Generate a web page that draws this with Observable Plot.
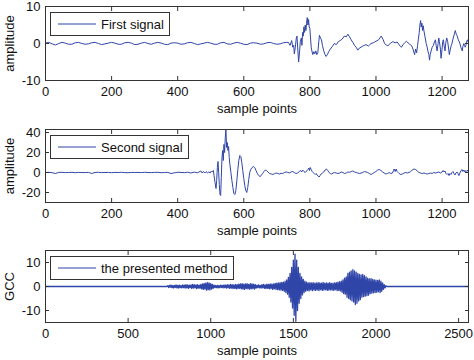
<!DOCTYPE html>
<html>
<head>
<meta charset="utf-8">
<script src="https://cdn.jsdelivr.net/npm/d3@7"></script>
<script src="https://cdn.jsdelivr.net/npm/@observablehq/plot@0.6"></script>
<style>
  body { margin: 0; background: #fff; }
  #chart { width: 474px; height: 360px; }
  #chart svg { display: block; }
</style>
</head>
<body>
<div id="chart"></div>
<script>
// ---------- data ----------
const legendLabels = ["First signal", "Second signal", "the presented method"];
const yLabels = ["amplitude", "amplitude", "GCC"];
const xLabel = "sample points";

const xTicks12 = [0, 200, 400, 600, 800, 1000, 1200];
const xTicks25 = [0, 500, 1000, 1500, 2000, 2500];
const yTicks1 = [-10, 0, 10];
const yTicks2 = [-20, 0, 20, 40];
const yTicks3 = [-10, 0, 10];

// signal 1: quiet part (sample 0..730, every 10 samples)
const sig1QuietStep = 10;
const sig1Quiet = [
  0.1,0.3,-0.1,-0.4,0.0,0.3,0.1,-0.2,-0.2,0.2,
  0.3,0.0,-0.2,-0.1,0.2,0.3,0.0,-0.3,-0.1,0.1,
  0.3,0.1,-0.2,-0.2,0.2,0.3,0.1,-0.3,-0.2,0.1,
  0.3,0.0,-0.2,0.1,0.3,0.1,-0.2,-0.3,0.1,0.2,
  0.1,-0.2,-0.1,0.2,0.3,0.0,-0.3,-0.1,0.1,0.3,
  0.1,-0.2,-0.2,0.2,0.3,-0.1,-0.2,0.1,0.3,0.1,
  -0.2,-0.3,0.1,0.2,0.1,-0.2,-0.1,0.2,0.3,0.0,
  -0.2,-0.1,0.2,0.3
];
// signal 1: active part
const sig1X = [735,740,745,748,751,753,756,759,761,763,766,769,771,774,776,778,780,782,784,786,788,790,792,794,796,798,800,802,804,806,809,812,815,818,821,824,827,829,832,835,838,842,846,849,853,857,862,868,874,880,886,892,898,904,910,915,920,925,930,935,940,945,950,955,962,970,977,985,992,1000,1008,1016,1022,1026,1031,1036,1043,1051,1058,1064,1069,1074,1077,1082,1087,1092,1097,1102,1108,1112,1115,1117,1120,1123,1126,1128,1131,1133,1135,1137,1139,1141,1143,1145,1148,1152,1155,1157,1160,1162,1164,1167,1170,1174,1177,1180,1182,1185,1188,1190,1192,1195,1197,1200,1202,1204,1206,1209,1211,1214,1217,1220,1222,1225,1228,1230,1233,1236,1238,1240,1243,1246,1249,1252,1254,1257,1259,1261,1263,1266,1268,1270,1272,1274,1277,1279,1280];
const sig1Y = [0.3,-0.5,0.8,-1,-0.5,-2.8,-1,1.5,2,-1,-5,-2,0.5,1.5,-0.5,3,2,4.5,3,5,3.5,5.5,7,5,6.5,4.5,4,1.5,-1,-2,-3,-2.2,-2.8,-2,-3,-2.5,0.5,2.2,1.5,1,-0.5,-2,-3,-3.5,-3,-2.2,-1.5,-0.8,0,-0.3,0.5,0.8,1.2,2,1.8,2.5,1.8,1,0.3,-0.5,-1,-1.8,-1.2,-1,-0.6,-0.3,-0.7,0,0.2,0.6,1,2,1,0,-0.4,-0.6,0,0.5,0.2,0.4,-0.2,-0.8,-1,-0.3,0.2,0.6,0.2,-0.2,-0.6,-1.5,-2.5,-3,-1.5,-2.5,-0.5,1,3,5,6.2,4.5,5.5,3.5,4.8,3.5,2,0,-1,-2,-3,-4.5,-3,-2,-1,-0.5,0.5,1,-0.5,-2,0,1.5,0.5,-1.5,-4,-1.5,0.5,1,-0.5,-2,0,1.5,0.5,-1.5,-3,-1.5,-0.5,0,1.2,2.2,2.8,3.5,2.5,2,1,0.5,0,-1,-1.5,-2,-0.8,0,-0.5,-1,-0.5,0.5,1,0.3,0.6];

// signal 2: quiet part (sample 0..460, every 10 samples)
const sig2QuietStep = 10;
const sig2Quiet = [
  0,0.2,-0.2,-1,0.1,0.2,-0.1,0,0.2,-0.2,
  0.1,0,-0.1,0.1,-1,0.1,0.2,-0.1,0,0.1,
  -0.2,0.1,0,0.2,-0.1,-0.2,0.1,0,0.1,-0.1,
  0.2,0,-0.1,0.1,0.2,-0.2,0,0.1,-1,-0.3,
  0.2,0.1,-0.2,0.3,-0.5,0.4,-0.3
];
// signal 2: active part
const sig2X = [470,474,478,482,486,490,494,498,502,505,508,510,513,516,518,520,522,524,526,528,530,532,534,536,538,540,542,544,546,548,550,552,554,556,558,561,564,567,570,573,576,579,582,585,588,591,594,597,600,603,606,609,612,615,618,621,625,629,633,637,641,645,649,653,657,661,665,669,673,678,683,688,693,698,703,708,713,718,723,728,733,738,743,748,753,758,763,768,772,775,778,782,786,790,794,797,799,801,804,807,810,813,816,819,822,825,828,831,834,838,842,846,850,854,858,862,866,870,875,880,885,890,895,900,905,910,915,920,925,930,935,940,945,950,955,960,965,970,975,980,985,990,995,1000,1005,1010,1015,1020,1025,1030,1035,1040,1045,1050,1053,1055,1058,1061,1064,1067,1070,1075,1080,1085,1090,1095,1100,1105,1110,1115,1120,1125,1130,1135,1140,1145,1150,1155,1160,1165,1170,1175,1180,1185,1190,1195,1200,1203,1206,1209,1212,1215,1218,1221,1224,1227,1230,1233,1236,1239,1242,1245,1248,1251,1254,1257,1260,1263,1266,1269,1272,1275,1278,1280];
const sig2Y = [1.5,-0.5,1,-0.5,0.8,-0.3,0.5,-0.5,1.5,0.5,2,-3,-10,-16,-8,5,11,0,-12,-22,-23,-5,15,22,12,28,20,35,43,25,30,22,26,15,8,0,-8,-15,-21,-22,-18,-8,3,12,17,16,10,2,-6,-13,-18,-20,-15,-7,0,3,5,6,5,2,-1,-3,-4,-3,-1,1,2.5,2,0.5,-1,-1.5,-2,-1.2,-0.5,-1,-1.5,-0.8,-1,0,0.5,0.2,-0.5,0.5,1,0,-1,-0.5,1,2,0.5,2.5,1,0,1.5,3,4.5,2,5,3,1,0,-1,-2,-1,-2.5,-3.5,-4.5,-3,-1.5,-0.5,0.5,2.5,3.5,2,0,-1,-1.5,-0.5,0,-0.5,-1,-0.5,0.5,0,-1,-0.5,0.5,0.2,1,1.5,0.5,0,-0.5,-1,-0.5,0,1,0.5,0,-1,-2,-1,0,1,2.5,3,2,0.5,-0.5,-1.5,-1,0,-1,-0.5,2,3.5,1,3.5,1,0,-1,-2,-1.5,-0.5,0,-0.5,0,1,2.5,3.5,3,1.5,0,-0.5,-1,-0.5,-1,-1.5,-1,-0.5,-1,0,-0.5,0,0.5,-0.5,0.5,2,0.5,1.5,-1,-2,-1,-3,-1,-2,0,1,-1,-2.5,-0.5,0.5,-1,-3,-0.5,1.5,3,1,2.5,0.5,2,1,2.5,1.5];

// GCC: flat ends and active part (sample 740.., every 5 samples)
const gccFlatX = [0, 735, 2065, 2560];
const gccFlatY = [0, 0, 0, 0];
const gccStart = 740;
const gccStep = 5;
const gccValues = [
  0.3,-0.4,0.5,-0.3,0.6,-0.5,0.4,-0.6,0.5,-0.4,0.7,-0.6,0.5,-0.7,0.6,-0.5,0.4,-0.6,0.7,-0.5,
  0.6,-0.7,0.8,-0.6,0.7,-0.8,0.6,-0.5,0.7,-0.8,0.9,-0.7,0.8,-0.6,0.7,-0.9,0.8,-0.7,0.6,-0.8,
  0.9,-1.0,1.1,-1.2,1.3,-1.1,1.4,-1.5,1.6,-1.3,1.5,-1.4,1.2,-1.1,0.9,-0.8,0.6,-0.5,0.4,-0.5,
  0.5,-0.6,0.4,-0.5,0.6,-0.4,0.5,-0.6,0.7,-0.5,0.6,-0.7,0.8,-0.6,0.7,-0.8,0.9,-0.7,0.8,-0.9,
  0.7,-0.8,0.9,-1.0,0.8,-0.9,1.0,-0.8,1.1,-1.0,1.2,-1.1,1.0,-1.2,1.1,-0.9,1.2,-1.0,0.9,-1.1,
  1.2,-1.0,1.1,-0.9,1.0,-1.1,0.8,-0.7,0.6,-0.5,0.7,-0.6,0.5,-0.7,0.8,-0.6,0.9,-0.8,0.7,-0.9,
  1.0,-0.8,0.9,-1.0,1.1,-0.9,1.0,-1.2,1.1,-1.0,1.3,-1.2,1.4,-1.3,1.5,-1.4,1.6,-1.5,1.7,-1.6,
  1.8,-2.0,2.2,-2.5,2.8,-3.2,3.8,-4.5,5.5,-6.5,8.0,-9.0,11.0,-12.0,13.5,-14.5,11.0,-10.0,8.0,-7.0,
  5.5,-5.0,4.0,-3.5,3.0,-2.5,2.2,-2.0,1.8,-1.6,1.5,-1.8,1.6,-1.4,1.5,-1.7,1.6,-1.5,1.4,-1.6,
  1.5,-1.4,1.6,-1.7,1.5,-1.3,1.4,-1.6,1.7,-1.5,1.4,-1.3,1.5,-1.6,1.4,-1.5,1.6,-1.4,1.3,-1.5,
  1.4,-1.6,1.5,-1.3,1.6,-1.7,1.8,-1.6,2.0,-1.8,2.2,-2.4,2.8,-3.0,3.5,-3.2,4.0,-4.5,5.5,-5.0,
  6.0,-5.5,6.5,-6.0,7.0,-6.5,6.5,-7.5,6.0,-7.0,5.5,-6.0,5.0,-5.5,4.8,-4.5,5.0,-4.2,4.5,-4.0,
  4.0,-3.8,3.5,-3.6,3.2,-3.0,3.3,-2.8,3.0,-2.6,2.8,-2.5,2.6,-2.4,2.5,-2.2,2.8,-2.5,2.2,-2.0,
  1.5,-1.2,0.8,-0.6,0.3
];

// ---------- build tables ----------
const sig1 = sig1Quiet.map((v, i) => ({x: i * sig1QuietStep, y: v}))
  .concat(sig1X.map((x, i) => ({x, y: sig1Y[i]})));
const sig2 = sig2Quiet.map((v, i) => ({x: i * sig2QuietStep, y: v}))
  .concat(sig2X.map((x, i) => ({x, y: sig2Y[i]})));
const gcc = [{x: gccFlatX[0], y: gccFlatY[0]}, {x: gccFlatX[1], y: gccFlatY[1]}]
  .concat(gccValues.map((v, i) => ({x: gccStart + i * gccStep, y: v})))
  .concat([{x: gccFlatX[2], y: gccFlatY[2]}, {x: gccFlatX[3], y: gccFlatY[3]}]);

// ---------- drawing ----------
const LINE = "#2f45a8";
const INK = "#333";
const FONT = "'Liberation Sans', Arial, Helvetica, sans-serif";
const container = document.getElementById("chart");

function panel({data, xDomain, yDomain, xTicks, yTicks, yLabel, legend, marginTop, marginBottom, lineWidth}) {
  const svg = Plot.plot({
    width: 474, height: 120,
    marginLeft: 45, marginRight: 6, marginTop, marginBottom,
    style: {fontFamily: FONT, fontSize: "13px", color: "#111", background: "white", overflow: "visible"},
    x: {domain: xDomain},
    y: {domain: yDomain},
    marks: [
      Plot.line(data, {x: "x", y: "y", stroke: LINE, strokeWidth: lineWidth, clip: true}),
      Plot.axisX({anchor: "bottom", ticks: xTicks, tickSize: 0, tickPadding: 6, tickFormat: d => String(d),
        label: xLabel, labelAnchor: "center", labelArrow: "none", labelOffset: 32}),
      Plot.axisX({anchor: "bottom", ticks: xTicks, tickSize: -4, text: null, label: null, stroke: INK}),
      Plot.axisX({anchor: "top", ticks: xTicks, tickSize: -4, text: null, label: null, stroke: INK}),
      Plot.axisY({anchor: "left", ticks: yTicks, tickSize: 0, tickPadding: 5, tickFormat: d => String(d),
        label: yLabel, labelAnchor: "center", labelArrow: "none", labelOffset: 41}),
      Plot.axisY({anchor: "left", ticks: yTicks, tickSize: -4, text: null, label: null, stroke: INK}),
      Plot.axisY({anchor: "right", ticks: yTicks, tickSize: -4, text: null, label: null, stroke: INK}),
      Plot.frame({stroke: INK, strokeWidth: 1})
    ]
  });
  container.appendChild(svg);
  // legend box
  const top = marginTop + 6;
  const g = d3.select(svg).append("g");
  const rect = g.append("rect").attr("x", 50.5).attr("y", top + 0.5).attr("height", 23)
    .attr("fill", "white").attr("stroke", INK).attr("stroke-width", 1);
  g.append("line").attr("x1", 58).attr("x2", 96).attr("y1", top + 12).attr("y2", top + 12)
    .attr("stroke", LINE).attr("stroke-width", 1);
  const t = g.append("text").attr("x", 101).attr("y", top + 12).attr("dy", "0.35em")
    .attr("text-anchor", "start").attr("fill", "#111")
    .style("font-family", FONT).style("font-size", "13px").text(legend);
  const w = t.node().getComputedTextLength();
  rect.attr("width", Math.round(101 + w + 6 - 50.5));
}

panel({data: sig1, xDomain: [0, 1280], yDomain: [-10, 10], xTicks: xTicks12, yTicks: yTicks1,
  yLabel: yLabels[0], legend: legendLabels[0], marginTop: 6, marginBottom: 40, lineWidth: 1});
panel({data: sig2, xDomain: [0, 1280], yDomain: [-30, 43], xTicks: xTicks12, yTicks: yTicks2,
  yLabel: yLabels[1], legend: legendLabels[1], marginTop: 9, marginBottom: 38, lineWidth: 1});
panel({data: gcc, xDomain: [0, 2560], yDomain: [-15, 15], xTicks: xTicks25, yTicks: yTicks3,
  yLabel: yLabels[2], legend: legendLabels[2], marginTop: 10, marginBottom: 38, lineWidth: 1.3});
</script>
</body>
</html>
